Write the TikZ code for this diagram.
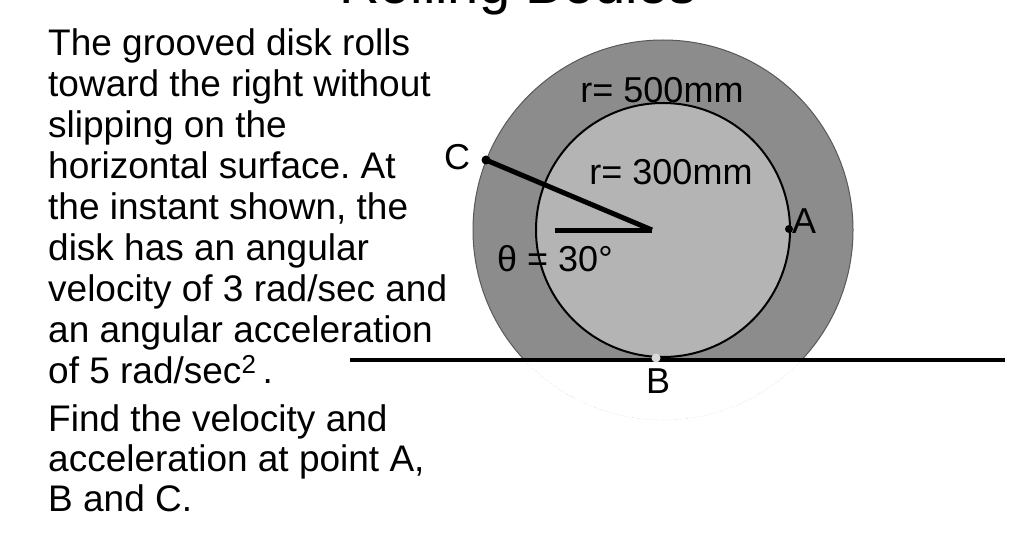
\documentclass[tikz,border=0pt]{standalone}
\usepackage{fontspec}
\setmainfont{Liberation Sans}
\frenchspacing
\begin{document}
\begin{tikzpicture}[x=1pt,y=-1pt,
  body/.style={font=\fontsize{37}{41}\selectfont, anchor=north west, align=left, inner sep=0pt},
  lab/.style={font=\fontsize{36}{38}\selectfont, inner sep=0pt},
  dotpt/.style={circle, fill=black, inner sep=0pt, minimum size=9pt}]
\useasboundingbox (0,0) rectangle (1024,548);
\node[font=\fontsize{56}{56}\selectfont, anchor=base, inner sep=0pt] (title) at (518,4) {Rolling Bodies};
\coordinate (Z) at (663,230);
\coordinate (O) at (652,230);
\draw[gray!60, dotted] (Z) circle (190);
\begin{scope}
\clip (300,0) rectangle (1024,360);
\fill[fill={rgb,255:red,140;green,140;blue,140}, draw=gray!70!black, line width=1pt] (Z) circle (190);
\end{scope}
\fill[fill={rgb,255:red,180;green,180;blue,180}, draw=black, line width=2pt] (Z) circle (127);
\draw[line width=4pt] (350,360) -- (1005,360);
\coordinate (H) at (555,230);
\node[dotpt] (C) at (486,160) {};
\draw[line width=5pt] (C.center) -- (O);
\draw[line width=5pt] (H) -- (O);
\node[dotpt, minimum size=8pt] (A) at (789,229) {};
\node[circle, fill=gray!30, inner sep=0pt, minimum size=9pt] (B) at (656,358) {};
\node[lab, anchor=base west] (Cl) at (444,170) {C};
\node[lab, anchor=base west] (Al) at (792,233) {A};
\node[lab, anchor=base] (Bl) at (658,393) {B};
\node[lab, anchor=base] (r5) at (662,103) {r= 500mm};
\node[lab, anchor=base] (r3) at (671,185) {r= 300mm};
\node[lab, anchor=base west] (th) at (497,271) {θ = 30°};
\node[body] (t1) at (48,28) {The grooved disk rolls\\toward the right without\\slipping on the\\horizontal surface. At\\the instant shown, the\\disk has an angular\\velocity of 3 rad/sec and\\an angular acceleration\\of 5 rad/sec\textsuperscript{2}\,.};
\node[body, font=\fontsize{37}{40}\selectfont] (t2) at (48,404) {Find the velocity and\\acceleration at point A,\\B and C.};
\end{tikzpicture}
\end{document}
